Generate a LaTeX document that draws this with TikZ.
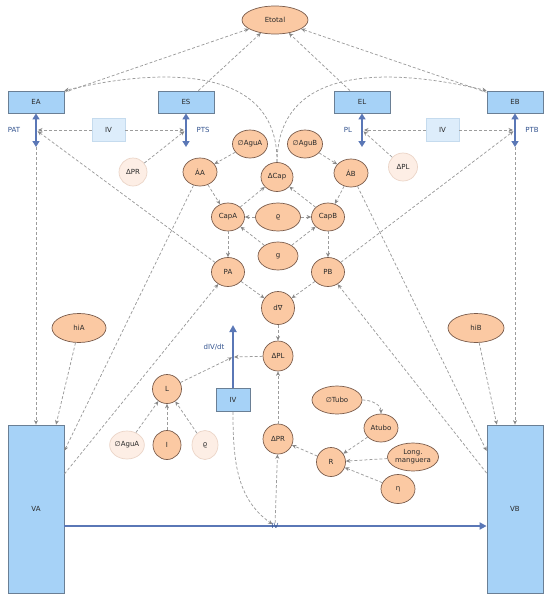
\documentclass[tikz,border=0pt]{standalone}
\usepackage{fontspec}
\setmainfont{DejaVu Sans}
\usetikzlibrary{shapes.geometric,arrows.meta}
\definecolor{auxfill}{HTML}{FBC9A3}
\definecolor{auxline}{HTML}{7A5C4C}
\definecolor{ghostfill}{HTML}{FDEEE5}
\definecolor{ghostline}{HTML}{EBD5C8}
\definecolor{stockfill}{HTML}{A6D2F7}
\definecolor{stockline}{HTML}{6A7F95}
\definecolor{ghostboxfill}{HTML}{DDEDFB}
\definecolor{ghostboxline}{HTML}{C5DBEE}
\definecolor{flowblue}{HTML}{5A77B6}
\definecolor{linkgray}{HTML}{9C9C9C}
\definecolor{tipgray}{HTML}{888888}
\definecolor{labelblue}{HTML}{34548F}
\definecolor{textdark}{HTML}{2A2A2A}

\begin{document}
\begin{tikzpicture}[x=1pt,y=1pt,
    font=\fontsize{7}{8}\selectfont,
    aux/.style={ellipse, draw=auxline, fill=auxfill, line width=0.7pt, inner sep=0pt,
        minimum height=28pt, minimum width=#1, text=textdark},
    aux/.default=33pt,
    ghost/.style={ellipse, draw=ghostline, fill=ghostfill, line width=0.7pt, inner sep=0pt,
        minimum height=28pt, minimum width=#1, text=textdark},
    ghost/.default=30pt,
    stock/.style={rectangle, draw=stockline, fill=stockfill, line width=0.8pt,
        minimum width=56pt, minimum height=22pt, inner sep=0pt, text=textdark},
    ghostbox/.style={rectangle, draw=ghostboxline, fill=ghostboxfill, line width=0.8pt,
        minimum width=33pt, minimum height=23pt, inner sep=0pt, text=textdark},
    conn/.style={draw=linkgray, line width=0.75pt, dash pattern=on 3pt off 2pt,
        -{Stealth[length=4.5pt,width=4pt,color=tipgray]}},
    flow/.style={draw=flowblue, line width=1.8pt},
    flowlabel/.style={text=labelblue, inner sep=1pt}]
    \useasboundingbox (0,0) rectangle (550,-600);

    % stocks and converters
    \node[aux=66pt] (Etotal) at (275,-20) {Etotal};
    \node[stock] (EA) at (36,-102) {EA};
    \node[stock] (ES) at (186,-102) {ES};
    \node[stock] (EL) at (362,-102) {EL};
    \node[stock] (EB) at (515,-102) {EB};
    \node[ghostbox] (IVa) at (108.5,-130) {IV};
    \node[ghostbox] (IVb) at (442.5,-130) {IV};
    \node[ghost=28pt] (dPRg) at (133,-172) {ΔPR};
    \node[ghost=29pt] (dPLg) at (403,-167) {ΔPL};
    \node[aux=35pt] (AguA) at (250,-144) {∅AguA};
    \node[aux=35pt] (AguB) at (305,-144) {∅AguB};
    \node[aux=34pt] (AreaA) at (200,-172) {ÁA};
    \node[aux=34pt] (AreaB) at (351,-173) {ÁB};
    \node[aux=32pt,minimum height=29pt] (dCap) at (277,-177) {ΔCap};
    \node[aux] (CapA) at (228,-217) {CapA};
    \node[aux=45pt] (rho) at (278,-217) {ϱ};
    \node[aux] (CapB) at (328,-217) {CapB};
    \node[aux=40pt] (g) at (278,-256) {g};
    \node[aux,minimum height=29pt] (PA) at (228,-272) {PA};
    \node[aux,minimum height=29pt] (PB) at (328,-272) {PB};
    \node[aux=33pt,minimum height=33pt] (dV) at (278,-308) {d∇};
    \node[aux=30pt,minimum height=30pt] (dPL) at (278,-356) {ΔPL};
    \node[stock,minimum width=34pt,minimum height=23pt] (IVbox) at (233,-400) {IV};
    \node[aux=29pt,minimum height=29pt] (L) at (167,-389) {L};
    \node[ghost=34pt] (AguAg) at (127,-445) {∅AguA};
    \node[aux=28pt,minimum height=29pt] (I) at (167,-445) {I};
    \node[ghost=26pt,minimum height=29pt] (rhog) at (205,-445) {ϱ};
    \node[aux=54pt,minimum height=29pt] (hiA) at (79,-328) {hiA};
    \node[aux=56pt,minimum height=29pt] (hiB) at (476,-328) {hiB};
    \node[aux=30pt,minimum height=30pt] (dPR) at (278,-439) {ΔPR};
    \node[aux=50pt] (Tubo) at (337,-400) {∅Tubo};
    \node[aux=34pt] (Atubo) at (381,-428) {Atubo};
    \node[aux=51pt,align=center] (Long) at (413,-457) {Long.\\manguera};
    \node[aux=29pt,minimum height=29pt] (R) at (331,-462) {R};
    \node[aux=34pt,minimum height=29pt] (eta) at (398,-489) {η};
    \node[stock,minimum height=168pt] (VA) at (36,-509) {VA};
    \node[stock,minimum height=168pt] (VB) at (515,-509) {VB};

    % flows
    \coordinate (PATv) at (36,-130);
    \coordinate (PTSv) at (186,-130);
    \coordinate (PLv) at (362,-130);
    \coordinate (PTBv) at (515,-130);
    \coordinate (PATend) at (36,-147);
    \coordinate (PTSend) at (186,-147);
    \coordinate (PLend) at (362,-147);
    \coordinate (PTBend) at (515,-147);
    \coordinate (dIVv) at (233,-357);
    \coordinate (dIVtip) at (233,-325);
    \coordinate (IVv) at (275,-526);
    \draw[flow,{Triangle[length=6pt,width=7pt]}-{Triangle[length=6pt,width=7pt]}] (EA) -- (PATend);
    \draw[flow,{Triangle[length=6pt,width=7pt]}-{Triangle[length=6pt,width=7pt]}] (ES) -- (PTSend);
    \draw[flow,{Triangle[length=6pt,width=7pt]}-{Triangle[length=6pt,width=7pt]}] (EL) -- (PLend);
    \draw[flow,{Triangle[length=6pt,width=7pt]}-{Triangle[length=6pt,width=7pt]}] (EB) -- (PTBend);
    \draw[flow,-{Triangle[length=7pt,width=7pt]}] (IVbox) -- (dIVtip);
    \draw[flow,-{Triangle[length=7pt,width=7pt]}] (VA.east |- IVv) -- (VB.west |- IVv);
    \node[flowlabel] (PATl) at (14,-130) {PAT};
    \node[flowlabel] (PTSl) at (203,-130) {PTS};
    \node[flowlabel] (PLl) at (348,-130) {PL};
    \node[flowlabel] (PTBl) at (532,-130) {PTB};
    \node[flowlabel] (dIVl) at (214,-347) {dIV/dt};
    \node[flowlabel] (IVl) at (IVv) {IV};

    % links
    \draw[conn] (EA) -- (Etotal);
    \draw[conn] (ES) -- (Etotal);
    \draw[conn] (EL) -- (Etotal);
    \draw[conn] (EB) -- (Etotal);
    \draw[conn] (dCap.north) .. controls (278,-60) and (150,-70) .. (EA.north east);
    \draw[conn] (dCap.north) .. controls (278,-60) and (400,-70) .. (EB.north west);
    \draw[conn,shorten >=2pt] (IVa) -- (PATv);
    \draw[conn,shorten >=2pt] (IVa) -- (PTSv);
    \draw[conn,shorten >=2pt] (dPRg) -- (PTSv);
    \draw[conn,shorten >=2pt] (IVb) -- (PLv);
    \draw[conn,shorten >=2pt] (IVb) -- (PTBv);
    \draw[conn,shorten >=2pt] (dPLg) -- (PLv);
    \draw[conn,shorten >=2pt] (PA) -- (PATv);
    \draw[conn,shorten >=2pt] (PB) -- (PTBv);
    \draw[conn] (PATend) -- (VA);
    \draw[conn] (PTBend) -- (VB);
    \draw[conn] (hiA) -- (VA);
    \draw[conn] (hiB) -- (VB);
    \draw[conn] (AreaA) -- (VA);
    \draw[conn] (AreaB) -- (VB);
    \draw[conn] (VA) -- (PA);
    \draw[conn] (VB) -- (PB);
    \draw[conn] (AguA) -- (AreaA);
    \draw[conn] (AguB) -- (AreaB);
    \draw[conn] (AreaA) -- (CapA);
    \draw[conn] (AreaB) -- (CapB);
    \draw[conn] (CapA) -- (dCap);
    \draw[conn] (CapB) -- (dCap);
    \draw[conn] (rho) -- (CapA);
    \draw[conn] (rho) -- (CapB);
    \draw[conn] (g) -- (CapA);
    \draw[conn] (g) -- (CapB);
    \draw[conn] (CapA) -- (PA);
    \draw[conn] (CapB) -- (PB);
    \draw[conn] (PA) -- (dV);
    \draw[conn] (PB) -- (dV);
    \draw[conn] (dV) -- (dPL);
    \draw[conn,shorten >=1pt] (dPL) -- (dIVv);
    \draw[conn,shorten >=1pt] (L) -- (dIVv);
    \draw[conn] (AguAg) -- (L);
    \draw[conn] (I) -- (L);
    \draw[conn] (rhog) -- (L);
    \draw[conn] (dPR) -- (dPL);
    \draw[conn] (R) -- (dPR);
    \draw[conn] (Atubo) -- (R);
    \draw[conn] (Long) -- (R);
    \draw[conn] (eta) -- (R);
    \draw[conn] (Tubo.east) to[out=0,in=90] (Atubo.north);
    \draw[conn,shorten >=3pt] (IVbox.south) to[out=-90,in=145] (IVv);
    \draw[conn,shorten <=3pt] (IVv) -- (dPR);
\end{tikzpicture}
\end{document}
